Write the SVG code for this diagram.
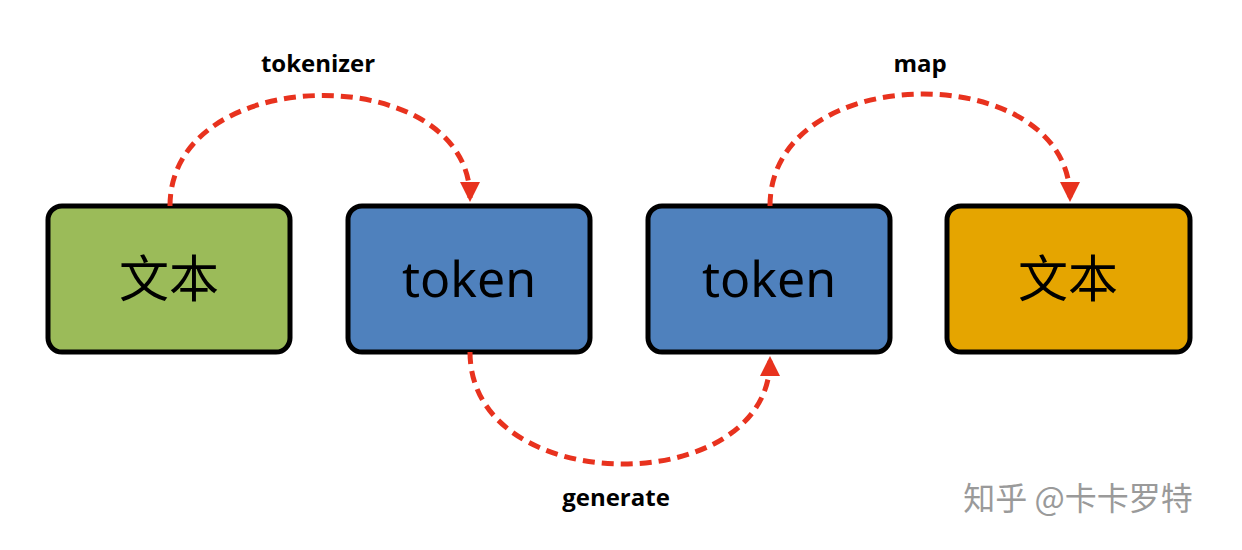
<svg xmlns="http://www.w3.org/2000/svg" width="1242" height="550" viewBox="0 0 1242 550">
<style>
.box{stroke:#000;stroke-width:5}
.lbl{font-family:"Noto Sans","Open Sans",sans-serif;font-size:50px;fill:#000}
.cjk{font-family:"Noto Sans CJK SC",sans-serif;font-size:50px;fill:#000}
.edge{font-family:"Open Sans","Liberation Sans",sans-serif;font-weight:bold;font-size:24px;fill:#000}
.arc{fill:none;stroke:#E8321E;stroke-width:5;stroke-dasharray:12 7}
</style>
<defs><marker id="ah" viewBox="0 0 10 10" refX="8" refY="5" markerWidth="4" markerHeight="4" orient="auto" markerUnits="strokeWidth"><path d="M0,0L10,5L0,10z" fill="#E8321E"/></marker></defs>
<rect width="1242" height="550" fill="#fff"/>
<g id="n1"><rect class="box" x="48" y="206" width="242" height="146" rx="14" fill="#9BBB59"/><text class="cjk" x="169" y="297" text-anchor="middle">文本</text></g>
<g id="n2"><rect class="box" x="348" y="206" width="242" height="146" rx="14" fill="#4F81BD"/><text class="lbl" x="469" y="297" text-anchor="middle">token</text></g>
<g id="n3"><rect class="box" x="648" y="206" width="242" height="146" rx="14" fill="#4F81BD"/><text class="lbl" x="769" y="297" text-anchor="middle">token</text></g>
<g id="n4"><rect class="box" x="947" y="206" width="243" height="146" rx="14" fill="#E5A500"/><text class="cjk" x="1068" y="297" text-anchor="middle">文本</text></g>
<g id="edges">
<path class="arc" d="M170,206 C170,60 470,60 470,198" marker-end="url(#ah)"/>
<path class="arc" d="M470,352 C470,500 770,500 770,360" marker-end="url(#ah)"/>
<path class="arc" d="M770,206 C770,58 1070,58 1070,198" marker-end="url(#ah)"/>
<text class="edge" x="318" y="72" text-anchor="middle">tokenizer</text>
<text class="edge" x="920" y="72" text-anchor="middle">map</text>
<text class="edge" x="616" y="506" text-anchor="middle">generate</text>
</g>
<text x="1078" y="510" text-anchor="middle" font-family="Noto Sans CJK SC,sans-serif" font-size="32" fill="#9a9a9a">知乎 @卡卡罗特</text>
</svg>
